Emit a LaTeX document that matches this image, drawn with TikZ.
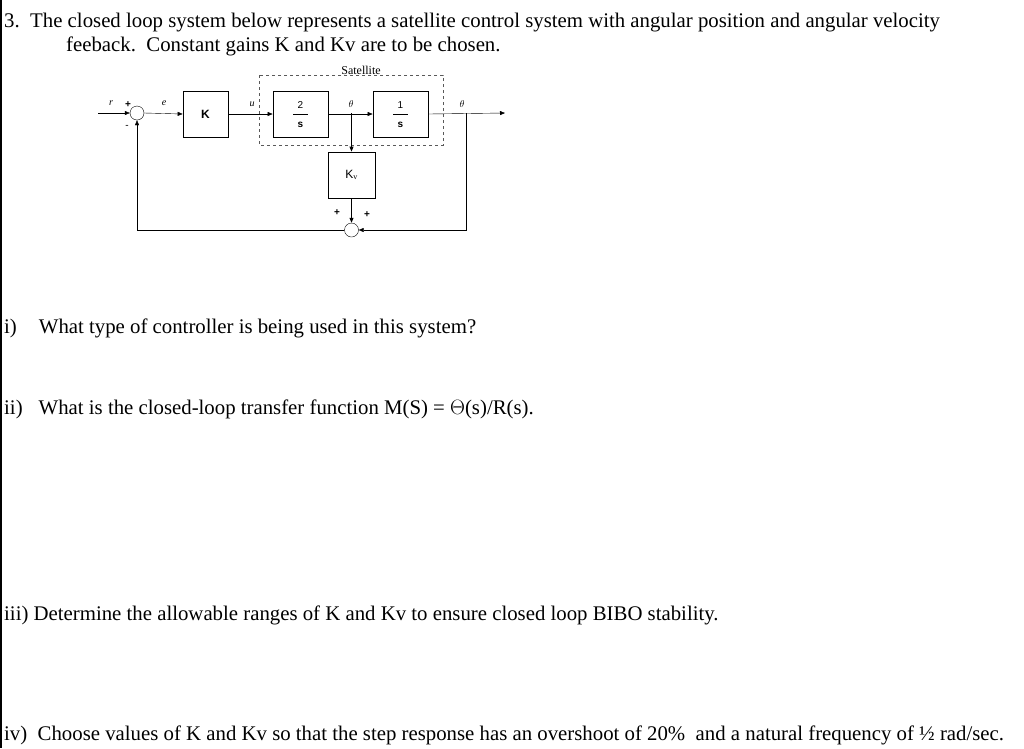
\documentclass[tikz,border=0pt]{standalone}
\usepackage{fontspec}
\setmainfont{Liberation Serif}
\newfontfamily\arialf{Liberation Sans}
\usetikzlibrary{arrows.meta}
\begin{document}
\begin{tikzpicture}[x=1pt,y=-1pt,
  blk/.style={draw,thick,minimum width=0pt,inner sep=0pt,font=\arialf\fontsize{10}{11}\selectfont},
  sumc/.style={draw,circle,minimum size=14pt,inner sep=0pt},
  arr/.style={-{Triangle[length=5pt,width=4pt]}},
  txt/.style={anchor=base west,inner sep=0pt,font=\fontsize{20.8}{22}\selectfont},
  lbl/.style={inner sep=0pt,font=\fontsize{10}{11}\selectfont\itshape},
  pl/.style={inner sep=0pt,font=\arialf\fontsize{10}{11}\selectfont}]
\useasboundingbox (0,0) rectangle (1024,748);
\fill[white] (0,0) rectangle (1024,748);
\draw[line width=1.5pt] (1,0) -- (1,748);
% text
\node[txt] (t1) at (4,27) {3.\ \ The closed loop system below represents a satellite control system with angular position and angular velocity};
\node[txt] (t2) at (66,51) {feeback.\ \ Constant gains K and Kv are to be chosen.};
\node[txt] (q1) at (4,333) {i)\hspace{22pt}What type of controller is being used in this system?};
\node[txt] (q2) at (4,414) {ii)\hspace{16pt}What is the closed-loop transfer function M(S) = $\Theta$(s)/R(s).};
\node[txt] (q3) at (4,620) {iii) Determine the allowable ranges of K and Kv to ensure closed loop BIBO stability.};
\node[txt] (q4) at (4,740) {iv)\ \ Choose values of K and Kv so that the step response has an overshoot of 20\%\ \ and a natural frequency of \char"BD\ rad/sec.};
% diagram
\draw[dashed,thick,gray!70!black] (259,75) rectangle (443,145);
\node[inner sep=1pt,font=\fontsize{12}{13}\selectfont,fill=white] (sat) at (361,70) {Satellite};
\node[sumc] (s1) at (137,113) {};
\node[blk,minimum width=45pt,minimum height=46pt] (K) at (205.5,114) {\fontsize{12}{13}\selectfont\bfseries K};
\node[blk,minimum width=55pt,minimum height=46pt] (G1) at (300.5,114) {};
\node[blk,minimum width=55pt,minimum height=46pt] (G2) at (400.5,114) {};
\node[pl] (n1) at (300.5,105) {2};
\node[pl] (d1) at (300.5,125) {\bfseries s};
\draw (293,114) -- (308,114);
\node[pl] (n2) at (400.5,105) {1};
\node[pl] (d2) at (400.5,125) {\bfseries s};
\draw (393,114) -- (408,114);
\node[blk,minimum width=47pt,minimum height=46pt] (Kv) at (351.5,175) {\fontsize{12}{13}\selectfont K$_{\mathrm{v}}$};
\node[sumc] (s2) at (351.5,230) {};
\coordinate (in) at (98,113);
\coordinate (out) at (505,113);
\coordinate (b1) at (351.5,113);
\coordinate (b2) at (466.5,113);
\draw[arr] (in) -- (s1.west);
\draw[arr] (s1.east) -- (K.west);
\draw[arr] (K.east) -- (G1.west);
\draw[arr] (G1.east) -- (G2.west);
\draw[arr] (G2.east) -- (out);
\draw[arr,thick] (b1) -- (Kv.north);
\draw[arr,thick] (Kv.south) -- (s2.north);
\draw[arr] (b2) |- (s2.east);
\draw[arr] (s2.west) -| (s1.south);
\node[lbl] (lr) at (111,103) {r};
\node[pl] (lp) at (128,105) {\bfseries +};
\node[lbl] (le) at (164,103) {e};
\node[pl] (lm) at (127,127) {-};
\node[lbl] (lu) at (252,104) {u};
\node[lbl] (lt1) at (351,104) {$\theta$};
\node[lbl] (lt2) at (462,104) {$\theta$};
\node[pl] (p1) at (337,213) {\bfseries +};
\node[pl] (p2) at (367,215) {\bfseries +};
\end{tikzpicture}
\end{document}
